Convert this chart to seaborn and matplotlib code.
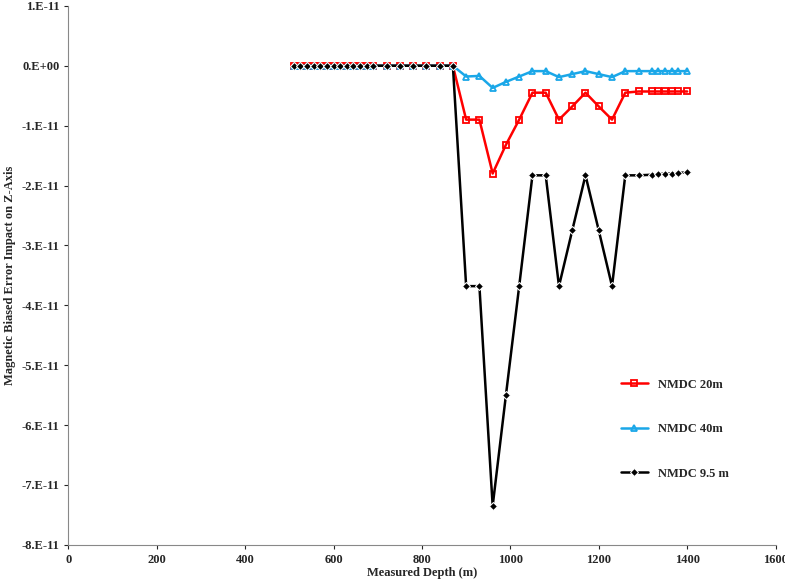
import numpy as np
import matplotlib
matplotlib.use("Agg")
import matplotlib.pyplot as plt
import seaborn as sns
import pandas as pd

depth = [510,525,540,555,570,585,600,615,630,645,660,675,690,720,750,780,810,840,870,
         900,930,960,990,1020,1050,1080,1110,1140,1170,1200,1230,1260,1290,1320,1335,1350,1365,1380,1400]
pre = [0.0]*19
red = pre + [-0.9,-0.9,-1.8,-1.32,-0.9,-0.45,-0.45,-0.9,-0.68,-0.45,-0.68,-0.9,-0.45,-0.43,-0.43,-0.43,-0.43,-0.43,-0.43,-0.43]
blue = pre + [-0.18,-0.17,-0.37,-0.27,-0.18,-0.09,-0.09,-0.19,-0.14,-0.09,-0.14,-0.19,-0.09,-0.09,-0.09,-0.09,-0.09,-0.09,-0.09,-0.09]
black = pre + [-3.68,-3.68,-7.35,-5.5,-3.68,-1.83,-1.83,-3.68,-2.75,-1.83,-2.75,-3.68,-1.83,-1.83,-1.82,-1.81,-1.8,-1.8,-1.79,-1.78]

df = pd.DataFrame({"d": depth, "r": np.array(red)*1e-11, "b": np.array(blue)*1e-11, "k": np.array(black)*1e-11})

sns.set_style("white")
plt.rcParams['font.family'] = ['Liberation Serif', 'DejaVu Serif']
plt.rcParams['font.weight'] = 'bold'
fig, ax = plt.subplots(figsize=(7.85, 5.84), dpi=100)
fig.subplots_adjust(left=0.087, right=0.988, top=0.99, bottom=0.067)

sns.lineplot(data=df, x="d", y="r", ax=ax, color="#ff0000", marker="s", markersize=5,
             markerfacecolor="none", markeredgecolor="#ff0000", markeredgewidth=1.3, lw=1.8, label="NMDC 20m")
sns.lineplot(data=df, x="d", y="b", ax=ax, color="#1aa7e8", marker="^", markersize=5,
             markerfacecolor="none", markeredgecolor="#1aa7e8", markeredgewidth=1.3, lw=1.8, label="NMDC 40m")
sns.lineplot(data=df, x="d", y="k", ax=ax, color="black", marker="D", markersize=4, lw=1.8, label="NMDC 9.5 m")

ax.set_xlim(0, 1600)
ax.set_ylim(-8e-11, 1e-11)
ax.set_xticks(range(0, 1601, 200))
yt = [i*1e-11 for i in range(1, -9, -1)]
ax.set_yticks(yt)
def fmt(v):
    i = round(v/1e-11)
    return "0.E+00" if i == 0 else f"{i}.E-11"
ax.set_yticklabels([fmt(v) for v in yt])
ax.tick_params(labelsize=9, length=3, direction="out", left=True, bottom=True)
for s in ["top", "right"]:
    ax.spines[s].set_visible(False)
ax.spines["left"].set_color("#888")
ax.spines["bottom"].set_color("#888")
ax.set_xlabel("Measured Depth (m)", fontsize=9, fontweight="bold", labelpad=1)
ax.set_ylabel("Magnetic Biased Error Impact on Z-Axis", fontsize=9, fontweight="bold")
leg = ax.legend(loc="lower right", bbox_to_anchor=(0.95, 0.1), frameon=False, fontsize=9,
                labelspacing=2.6, handlelength=2.2)
fig.savefig("out.png")
